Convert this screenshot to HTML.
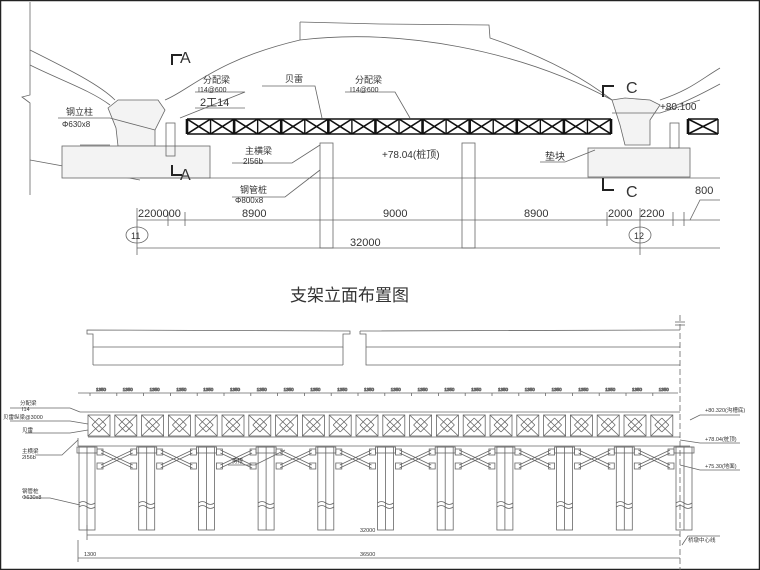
<!DOCTYPE html>
<html><head><meta charset="utf-8"><style>
html,body{margin:0;padding:0;background:#fff;}
svg{display:block;}
text{font-family:"Liberation Sans","Noto Sans CJK SC",sans-serif;fill:#333;}
</style></head><body>
<svg id="s" width="760" height="570" viewBox="0 0 760 570" xmlns="http://www.w3.org/2000/svg">
<rect x="0.5" y="0.5" width="759" height="569" fill="#fff" stroke="#222" stroke-width="1.5"/>
<g fill="none" stroke="#666" stroke-width="0.8">
<path d="M30 2 V95 L22 97 L30 103 V195"/>
<path d="M30 50 C70 70 100 85 115 100"/>
<path d="M30 65 C60 80 90 90 110 105"/>
<path d="M165 100 C190 90 215 60 300 40 C400 28 520 50 612 100"/>
<path d="M300 22 L380 24 L489 25 L490 38 C540 55 580 75 612 100"/>
<path d="M300 22 V40"/>
<path d="M660 100 C690 90 700 80 720 68"/>
<path d="M665 110 C690 100 705 92 720 84"/>
<path d="M30 160 L140 180"/>
<path d="M108 108 L118 100 L158 100 L165 110 L155 130 L155 146 L118 146 L116 128 Z" fill="#f3f3f3"/>
<path d="M612 100 L625 98 L650 100 L660 105 L650 120 L650 145 L625 145 L620 125 Z" fill="#f3f3f3"/>
<rect x="62" y="146" width="148" height="32" fill="#f3f3f3"/>
<rect x="588" y="148" width="102" height="29" fill="#f3f3f3"/>
<line x1="210" y1="178" x2="720" y2="178"/>
<line x1="140" y1="178" x2="210" y2="178"/>
<rect x="320" y="143" width="13" height="105"/>
<rect x="462" y="143" width="13" height="105"/>
<rect x="166" y="123" width="9" height="33"/>
<rect x="670" y="123" width="9" height="25"/>
<line x1="137" y1="220" x2="720" y2="220"/>
<line x1="137" y1="248" x2="720" y2="248"/>
<line x1="137" y1="208" x2="137" y2="255"/>
<line x1="640" y1="208" x2="640" y2="255"/>
<line x1="168" y1="212" x2="168" y2="226"/><line x1="185" y1="212" x2="185" y2="226"/>
<line x1="607" y1="212" x2="607" y2="226"/><line x1="673" y1="212" x2="673" y2="226"/><line x1="684" y1="212" x2="684" y2="226"/>
<ellipse cx="137" cy="235" rx="11" ry="8"/>
<ellipse cx="640" cy="235" rx="11" ry="8"/>
<path d="M58 118 H110 L155 130"/>
<path d="M195 92 H245 L180 118"/>
<path d="M195 108 H245"/>
<path d="M262 86 H315 L322 118"/>
<path d="M345 92 H395 L410 118"/>
<path d="M232 163 H292 L320 145"/>
<path d="M232 197 H285 L320 170"/>
<path d="M540 162 H565 L595 150"/>
<path d="M612 113 H660 L700 100"/>
<path d="M690 220 L700 200 H720"/>
<path d="M80 145 H110"/>
<path d="M87 330 L350 331 L350 334 L343 334 V347 H93 V334 L87 334 Z"/>
<line x1="93" y1="347" x2="93" y2="365"/><line x1="343" y1="347" x2="343" y2="365"/><line x1="93" y1="365" x2="343" y2="365"/>
<path d="M360 331 L680 330 M360 331 V334 L366 334 V365 H680 M366 347 H680"/>
<line x1="680" y1="315" x2="680" y2="570" stroke-dasharray="6 3"/>
<line x1="675" y1="322" x2="685" y2="322"/><line x1="675" y1="325" x2="685" y2="325"/>
<line x1="78" y1="393" x2="678" y2="393"/>
<line x1="80" y1="412" x2="680" y2="412"/>
<line x1="88" y1="437" x2="680" y2="437"/>
<line x1="78" y1="438" x2="78" y2="446"/>
<line x1="78" y1="446" x2="690" y2="446"/>
<line x1="87" y1="535" x2="680" y2="535"/>
<line x1="78" y1="558" x2="680" y2="558"/>
<line x1="78" y1="540" x2="78" y2="562"/>
<line x1="87" y1="525" x2="87" y2="540"/>
<path d="M10 408 H70 L80 412"/><path d="M10 421 H70 L88 424"/><path d="M25 433 H70 L88 430"/>
<path d="M35 455 H62 L78 440"/><path d="M25 498 H50 L80 505"/>
<path d="M228 465 H255 L285 450"/>
<path d="M690 420 L700 415 H740"/><path d="M680 440 L700 443 H740"/><path d="M680 465 L700 470 H740"/>
<path d="M682 545 L688 536 H720"/>
</g>
<g id="g1" fill="none" stroke="#111" stroke-width="1.6"></g>
<g id="g2" fill="none" stroke="#666" stroke-width="0.8"></g>
<g fill="none" stroke="#222" stroke-width="2">
<path d="M172 65 V55 H182"/><path d="M172 165 V175 H182"/>
<path d="M603 97 V86 H614"/><path d="M603 178 V190 H614"/>
</g>
<g font-size="11">
<text x="180" y="63" font-family="Liberation Serif" font-size="16">A</text>
<text x="180" y="180" font-family="Liberation Serif" font-size="16">A</text>
<text x="626" y="93" font-family="Liberation Serif" font-size="16">C</text>
<text x="626" y="197" font-family="Liberation Serif" font-size="16">C</text>
<text x="66" y="115" font-size="9">钢立柱</text><text x="62" y="127" font-size="8">Φ630x8</text>
<text x="203" y="83" font-size="9">分配梁</text><text x="198" y="92" font-size="7">I14@600</text>
<text x="200" y="106">2工14</text>
<text x="285" y="82" font-size="9">贝雷</text>
<text x="355" y="83" font-size="9">分配梁</text><text x="350" y="92" font-size="7">I14@600</text>
<text x="245" y="154" font-size="9">主横梁</text><text x="243" y="164" font-size="8">2I56b</text>
<text x="240" y="193" font-size="9">钢管桩</text><text x="235" y="203" font-size="8">Φ800x8</text>
<text x="382" y="158" font-size="10">+78.04(桩顶)</text>
<text x="545" y="160" font-size="10">垫块</text>
<text x="660" y="110" font-size="10">+80.100</text>
<text x="138" y="217" font-size="11">2200000</text>
<text x="242" y="217">8900</text><text x="383" y="217">9000</text><text x="524" y="217">8900</text>
<text x="608" y="217">2000</text><text x="640" y="217">2200</text>
<text x="695" y="194">800</text>
<text x="350" y="246">32000</text>
<text x="131" y="239" font-size="9">11</text><text x="634" y="239" font-size="9">12</text>
<text x="290" y="301" font-size="17" fill="#222">支架立面布置图</text>
<g font-size="5.5">
<text x="20" y="405">分配梁</text><text x="22" y="411">I14</text>
<text x="3" y="419">贝雷纵梁@3000</text><text x="22" y="432">贝雷</text>
<text x="22" y="453">主横梁</text><text x="22" y="459">2I56b</text>
<text x="22" y="493">钢管桩</text><text x="22" y="499">Φ630x8</text>
<text x="232" y="463">剪撑</text>
<text x="705" y="412">+80.320(沟槽底)</text>
<text x="705" y="441">+78.04(桩顶)</text>
<text x="705" y="468">+75.30(地面)</text>
<text x="688" y="542">桥墩中心线</text>
<text x="360" y="532">32000</text><text x="360" y="556">36500</text>
<text x="84" y="556">1300</text>
</g>
</g>
</svg>
<script>
var NS="http://www.w3.org/2000/svg";
function L(g,x1,y1,x2,y2,w){var e=document.createElementNS(NS,"line");e.setAttribute("x1",x1);e.setAttribute("y1",y1);e.setAttribute("x2",x2);e.setAttribute("y2",y2);if(w)e.setAttribute("stroke-width",w);g.appendChild(e);}
function R(g,x,y,w,h){var e=document.createElementNS(NS,"rect");e.setAttribute("x",x);e.setAttribute("y",y);e.setAttribute("width",w);e.setAttribute("height",h);g.appendChild(e);}
function P(g,d){var e=document.createElementNS(NS,"path");e.setAttribute("d",d);g.appendChild(e);}
function T(g,x,y,s){var e=document.createElementNS(NS,"text");e.setAttribute("x",x);e.setAttribute("y",y);e.setAttribute("font-size","4.5");e.textContent=s;g.appendChild(e);}
var g1=document.getElementById("g1"),g2=document.getElementById("g2");
function truss(x0,x1){L(g1,x0,119,x1,119);L(g1,x0,134,x1,134);
 var n=Math.round((x1-x0)/23.5),w=(x1-x0)/n;
 for(var i=0;i<=n;i++){L(g1,x0+i*w,119,x0+i*w,134,i%2==0?2.6:1.4);}
 for(var i=0;i<n;i++){var a=x0+i*w,b=a+w;L(g1,a,119,b,134);L(g1,a,134,b,119);}}
truss(187,611);truss(688,718);
for(var i=0;i<22;i++){var x=88+i*26.8;R(g2,x,415,22,21);L(g2,x,415,x+22,436);L(g2,x,436,x+22,415);
 L(g2,x+11,418,x+4,425);L(g2,x+11,418,x+18,425);L(g2,x+4,425,x+11,432);L(g2,x+18,425,x+11,432);
 L(g2,x+2,393,x+2,396);T(g2,x+8,391,"1350");}
for(var i=0;i<11;i++){var x=79+i*59.7;R(g2,x,447,16,83);
 P(g2,"M"+x+" 503 q4 -3 8 0 q4 3 8 0 M"+x+" 507 q4 -3 8 0 q4 3 8 0");
 L(g2,x+8,447,x+8,530);R(g2,x-2,447,20,6);
 if(i<10){var a=x+16,b=x+59.7;R(g2,a+2,449,6,6);R(g2,b-8,449,6,6);R(g2,a+2,463,6,6);R(g2,b-8,463,6,6);
  L(g2,a+6,453,b-6,468);L(g2,a+6,450,b-6,465);L(g2,a+6,468,b-6,453);L(g2,a+6,465,b-6,450);}}
</script>
</body></html>
